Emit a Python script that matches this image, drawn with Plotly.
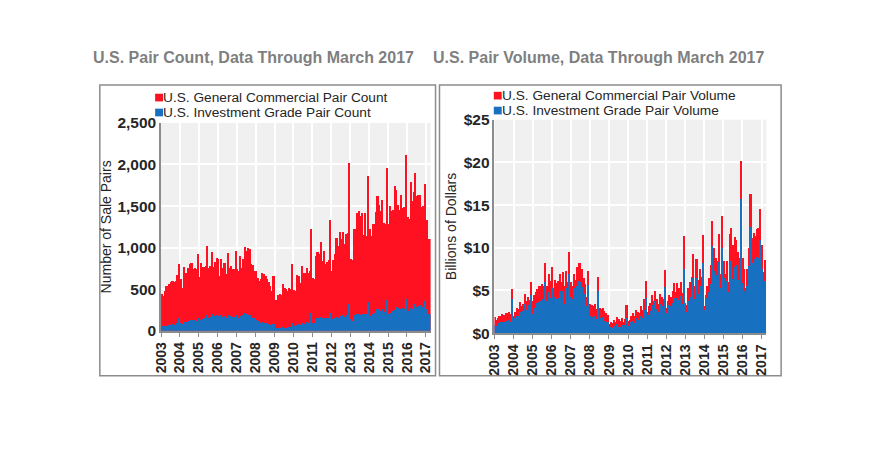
import pandas as pd
import plotly.graph_objects as go

# ---------------- data ----------------
months = pd.date_range("2003-01-01", "2017-03-01", freq="MS")
years = list(range(2003, 2018))

# U.S. General Commercial Pair Count (monthly, Jan 2003 - Mar 2017)
gc_count = [
    450, 420, 480, 540, 545, 560, 590, 600, 590, 600, 670, 800,        # 2003
    620, 520, 770, 700, 700, 760, 810, 820, 740, 760, 740, 920,        # 2004
    650, 820, 770, 770, 780, 1020, 760, 780, 950, 770, 830, 880,       # 2005
    860, 660, 870, 760, 820, 680, 940, 760, 780, 750, 740, 960,        # 2006
    750, 720, 900, 760, 870, 1010, 960, 1000, 990, 800, 790, 720,      # 2007
    720, 640, 600, 630, 700, 680, 660, 620, 590, 540, 480, 660,        # 2008
    370, 370, 430, 440, 430, 560, 520, 500, 480, 520, 500, 810,        # 2009
    490, 480, 670, 660, 580, 780, 700, 700, 760, 700, 720, 1220,       # 2010
    640, 620, 900, 950, 920, 1070, 840, 960, 800, 830, 850, 1330,      # 2011
    720, 850, 930, 1120, 1020, 1190, 1100, 1190, 1050, 1160, 1180, 2020,  # 2012
    870, 850, 1220, 1220, 1420, 1440, 1380, 1420, 1150, 1420, 1140, 1860, # 2013
    1230, 1140, 1280, 1290, 1430, 1620, 1520, 1440, 1570, 1300, 1290, 1960,  # 2014
    1280, 1500, 1440, 1450, 1740, 1700, 1520, 1450, 1640, 1480, 1490, 2120,  # 2015
    1370, 1350, 1790, 1560, 1670, 1900, 1620, 1630, 1630, 1490, 1500, 1770,  # 2016
    1340, 970, 1110,                                                   # 2017
]

# U.S. Investment Grade Pair Count
ig_count = [
    50, 55, 60, 65, 70, 70, 75, 80, 75, 85, 90, 150,
    90, 80, 110, 100, 110, 120, 130, 135, 125, 130, 120, 160,
    120, 130, 140, 150, 150, 190, 160, 170, 200, 170, 180, 190,
    180, 150, 190, 170, 180, 160, 190, 170, 180, 165, 170, 190,
    160, 150, 180, 170, 190, 220, 200, 190, 190, 160, 150, 160,
    130, 120, 110, 100, 110, 100, 95, 90, 80, 75, 70, 80,
    30, 30, 35, 40, 35, 45, 40, 35, 45, 40, 50, 100,
    50, 55, 70, 80, 70, 100, 90, 85, 110, 100, 110, 220,
    100, 100, 140, 150, 140, 170, 150, 160, 150, 150, 155, 220,
    130, 140, 150, 170, 160, 180, 170, 190, 170, 190, 180, 330,
    140, 120, 190, 190, 200, 200, 190, 210, 190, 210, 200, 350,
    180, 170, 210, 220, 240, 270, 250, 240, 260, 230, 230, 370,
    200, 220, 240, 230, 250, 290, 280, 260, 250, 280, 260, 390,
    240, 230, 280, 260, 290, 330, 290, 300, 310, 270, 290, 360,
    260, 170, 210,
]

# U.S. General Commercial Pair Volume ($ billions)
gc_volume = [
    1.9, 1.6, 1.8, 2.0, 2.1, 2.3, 2.2, 2.4, 2.4, 2.5, 2.3, 5.2,
    2.0, 2.5, 3.0, 2.9, 3.7, 3.2, 3.5, 4.6, 3.8, 4.3, 3.9, 6.0,
    3.8, 4.5, 4.8, 5.2, 5.5, 5.6, 5.8, 5.5, 8.2, 5.5, 7.0, 6.2,
    7.8, 5.3, 6.3, 5.9, 6.2, 7.0, 6.0, 7.2, 5.5, 7.3, 6.0, 9.5,
    6.0, 5.6, 7.0, 6.3, 7.8, 8.2, 8.2, 7.5, 6.5, 5.8, 4.3, 7.3,
    3.5, 3.3, 3.2, 3.4, 2.9, 6.6, 3.0, 2.9, 3.0, 2.6, 2.4, 2.2,
    1.1, 1.3, 1.2, 1.6, 1.4, 1.9, 1.7, 1.5, 1.8, 1.4, 1.7, 3.3,
    1.5, 1.6, 2.0, 2.4, 2.0, 2.8, 2.5, 2.4, 3.2, 2.8, 4.0, 6.2,
    2.5, 3.2, 3.6, 4.5, 3.8, 5.0, 4.0, 3.5, 4.6, 4.3, 4.0, 7.4,
    3.0, 3.8, 4.5, 4.3, 5.0, 5.9, 4.8, 5.9, 5.3, 6.0, 4.7, 11.4,
    3.6, 3.3, 5.3, 6.0, 6.6, 9.3, 5.5, 8.7, 6.3, 7.5, 6.6, 11.5,
    3.2, 4.5, 5.5, 6.5, 8.0, 13.2, 10.0, 8.8, 8.5, 11.6, 7.0, 13.8,
    8.5, 7.0, 8.5, 6.0, 11.7, 12.4, 10.4, 11.3, 11.0, 9.5, 8.8, 20.2,
    8.8, 7.5, 5.3, 7.6, 10.0, 16.3, 11.2, 11.8, 11.4, 12.2, 12.4, 14.6,
    10.4, 7.2, 8.6,
]

# U.S. Investment Grade Pair Volume ($ billions)
ig_volume = [
    1.0, 0.9, 1.1, 1.2, 1.3, 1.4, 1.3, 1.5, 1.4, 1.6, 1.3, 4.0,
    1.5, 1.8, 2.0, 2.1, 2.5, 2.3, 2.6, 3.5, 2.8, 3.3, 2.8, 4.5,
    2.3, 3.0, 3.3, 3.6, 3.7, 3.8, 4.0, 3.7, 6.0, 3.8, 4.8, 4.2,
    5.3, 3.5, 4.3, 4.0, 4.2, 5.0, 3.9, 5.0, 3.5, 5.3, 4.0, 7.0,
    4.3, 4.0, 5.3, 4.5, 5.6, 6.2, 6.0, 5.4, 4.6, 4.0, 3.2, 5.7,
    2.0, 1.8, 1.9, 2.1, 1.7, 5.0, 1.8, 1.7, 1.9, 1.5, 1.4, 1.3,
    0.5, 0.8, 0.6, 0.9, 0.7, 1.1, 0.8, 0.7, 1.0, 0.7, 1.0, 1.8,
    0.9, 1.0, 1.3, 1.5, 1.2, 1.8, 1.6, 1.5, 2.0, 1.8, 2.7, 4.2,
    1.8, 2.2, 2.6, 3.3, 2.8, 3.8, 2.9, 2.5, 3.4, 3.2, 2.9, 5.4,
    2.4, 2.8, 3.3, 3.2, 3.6, 4.1, 3.4, 4.2, 3.9, 4.4, 3.5, 7.6,
    2.7, 2.5, 3.8, 4.3, 4.8, 6.5, 4.0, 6.5, 4.6, 5.5, 4.7, 8.2,
    2.8, 3.5, 4.1, 4.8, 5.8, 10.2, 7.3, 6.8, 6.4, 8.4, 5.3, 10.0,
    6.5, 5.0, 6.2, 4.8, 8.3, 8.5, 6.4, 7.8, 8.0, 6.3, 6.0, 15.8,
    5.9, 5.0, 4.3, 5.6, 7.9, 12.5, 8.2, 8.5, 8.7, 9.0, 8.8, 11.0,
    7.6, 5.0, 6.1,
]

count_ticks = [0, 500, 1000, 1500, 2000, 2500]
count_labels = ["0", "500", "1,000", "1,500", "2,000", "2,500"]
volume_ticks = [0, 5, 10, 15, 20, 25]
volume_labels = ["&#36;0", "&#36;5", "&#36;10", "&#36;15", "&#36;20", "&#36;25"]

# ---------------- style ----------------
RED = "#ff1122"
BLUE = "#1770c0"
FONT = "Liberation Sans, Arial, sans-serif"
TXT = "#262626"
W, H = 872, 457

def px_x(p):
    return p / W

def px_y(p):
    return 1 - p / H

fig = go.Figure()
bar_kw = dict(xperiod="M1", xperiodalignment="middle", marker_line_width=0,
              width=31 * 86400000, hoverinfo="skip", showlegend=False)
fig.add_trace(go.Bar(x=months, y=gc_count, marker_color=RED, xaxis="x", yaxis="y",
                     name="U.S. General Commercial Pair Count", **bar_kw))
fig.add_trace(go.Bar(x=months, y=ig_count, marker_color=BLUE, xaxis="x", yaxis="y",
                     name="U.S. Investment Grade Pair Count", **bar_kw))
fig.add_trace(go.Bar(x=months, y=gc_volume, marker_color=RED, xaxis="x2", yaxis="y2",
                     name="U.S. General Commercial Pair Volume", **bar_kw))
fig.add_trace(go.Bar(x=months, y=ig_volume, marker_color=BLUE, xaxis="x2", yaxis="y2",
                     name="U.S. Investment Grade Pair Volume", **bar_kw))

xrange = ["2003-01-01", "2017-04-01"]
tickvals = [f"{y}-01-01" for y in years]
xcommon = dict(type="date", range=xrange, tickvals=tickvals, ticktext=[str(y) for y in years],
               tickangle=-90, tickfont=dict(family=FONT, size=14, color=TXT, weight="bold"),
               showgrid=True, gridcolor="white", gridwidth=1.5,
               showline=True, linecolor="#8c8c8c", linewidth=1.5,
               ticks="outside", ticklen=4, tickcolor="#8c8c8c", zeroline=False)
ycommon = dict(showgrid=True, gridcolor="white", gridwidth=1.5,
               showline=True, linecolor="#8c8c8c", linewidth=1.5,
               ticks="", zeroline=False,
               tickfont=dict(family=FONT, size=15.5, color=TXT, weight="bold"))

fig.update_layout(
    width=W, height=H, autosize=False,
    margin=dict(l=0, r=0, t=0, b=0),
    paper_bgcolor="white", plot_bgcolor="#f0f0f0",
    barmode="overlay", bargap=0,
    showlegend=False,
    xaxis=dict(domain=[px_x(155), px_x(428)], anchor="y", **xcommon),
    yaxis=dict(domain=[px_y(334.3), px_y(118.3)], anchor="x", range=[0, 2500],
               tickvals=count_ticks, ticktext=count_labels,
               title=dict(text="Number of Sale Pairs", standoff=2,
                          font=dict(family=FONT, size=14, color=TXT)),
               **ycommon),
    xaxis2=dict(domain=[px_x(492.7), px_x(768)], anchor="y2", **xcommon),
    yaxis2=dict(domain=[px_y(336.7), px_y(115)], anchor="x2", range=[0, 25],
                tickvals=volume_ticks, ticktext=volume_labels,
                title=dict(text="Billions of Dollars", standoff=4,
                           font=dict(family=FONT, size=14, color=TXT)),
                **ycommon),
)

# panel frames
for x0, x1 in [(93, 433), (437, 783)]:
    fig.add_shape(type="rect", xref="paper", yref="paper",
                  x0=px_x(x0), x1=px_x(x1), y0=px_y(381), y1=px_y(79),
                  line=dict(color="#8c8c8c", width=1.5), fillcolor="rgba(0,0,0,0)", layer="below")

# panel titles
for txt, xc in [("U.S. Pair Count, Data Through March 2017", 249),
                ("U.S. Pair Volume, Data Through March 2017", 598)]:
    fig.add_annotation(text=f"<b>{txt}</b>", xref="paper", yref="paper",
                       x=px_x(xc), y=px_y(50), xanchor="center", yanchor="middle",
                       showarrow=False, font=dict(family=FONT, size=16, color="#7f7f7f"))

# legends: colored square + label
legend_items = [
    ("U.S. General Commercial Pair Count", RED, 149, 92),
    ("U.S. Investment Grade Pair Count", BLUE, 149, 107.5),
    ("U.S. General Commercial Pair Volume", RED, 492, 90),
    ("U.S. Investment Grade Pair Volume", BLUE, 492, 105.5),
]
for txt, col, x, y in legend_items:
    fig.add_shape(type="rect", xref="paper", yref="paper",
                  x0=px_x(x), x1=px_x(x + 8), y0=px_y(y + 4), y1=px_y(y - 4),
                  line=dict(width=0), fillcolor=col)
    fig.add_annotation(text=txt, xref="paper", yref="paper",
                       x=px_x(x + 8), y=px_y(y), xanchor="left", yanchor="middle",
                       showarrow=False, borderpad=0, xshift=-1,
                       font=dict(family=FONT, size=13.7, color=TXT))

fig.write_html("out.html")
